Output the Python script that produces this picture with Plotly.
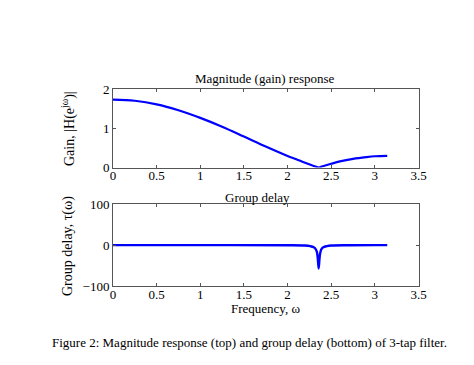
import plotly.graph_objects as go

# Magnitude response
w_mag = [0.0, 0.25, 0.5, 0.75, 1.0, 1.25, 1.5, 1.75, 2.0, 2.1, 2.2, 2.3, 2.356, 2.4, 2.5, 2.6, 2.75, 2.9, 3.0, 3.1416]
gain = [1.73, 1.70, 1.61, 1.46, 1.265, 1.04, 0.79, 0.536, 0.295, 0.21, 0.12, 0.04, 0.0, 0.03, 0.095, 0.155, 0.22, 0.265, 0.287, 0.297]

# Group delay
w_gd = [0.0, 1.0, 2.0, 2.2, 2.26, 2.3, 2.32, 2.335, 2.345, 2.356, 2.367, 2.377, 2.39, 2.41, 2.45, 2.5, 2.7, 3.1416]
delay = [0.0, 0.0, -0.2, -1.0, -2.5, -5, -9, -16, -30, -57, -30, -16, -9, -5, -2.5, -1.0, -0.2, 0.0]

xticks = [0, 0.5, 1, 1.5, 2, 2.5, 3, 3.5]
xlabels = ["0", "0.5", "1", "1.5", "2", "2.5", "3", "3.5"]

FONT = "Liberation Serif"
W, H = 474, 365
fig = go.Figure()
fig.add_trace(go.Scatter(x=w_mag, y=gain, mode="lines", line=dict(color="#0000ff", width=2.2, shape="spline"),
                         xaxis="x", yaxis="y", showlegend=False))
fig.add_trace(go.Scatter(x=w_gd, y=delay, mode="lines", line=dict(color="#0000ff", width=2.4, shape="spline"),
                         xaxis="x2", yaxis="y2", showlegend=False))

axcommon = dict(showline=True, linecolor="#555555", linewidth=1, mirror="allticks", ticks="inside",
                ticklen=3, tickcolor="#555555", showgrid=False, zeroline=False, automargin=False,
                tickfont=dict(family=FONT, size=13, color="black"))

fig.update_layout(
    template="none", autosize=False,
    width=W, height=H, margin=dict(l=0, r=0, t=0, b=0, pad=0),
    paper_bgcolor="white", plot_bgcolor="white",
    font=dict(family=FONT, size=13, color="black"),
    xaxis=dict(domain=[113 / W, 418.5 / W], range=[0, 3.5], tickvals=xticks, ticktext=xlabels, anchor="y",
               ticklabelstandoff=-4, **axcommon),
    yaxis=dict(domain=[(H - 167.5) / H, (H - 89) / H], range=[0, 2], tickvals=[0, 1, 2], anchor="x", **axcommon),
    xaxis2=dict(domain=[113 / W, 418.5 / W], range=[0, 3.5], tickvals=xticks, ticktext=xlabels, anchor="y2",
                ticklabelstandoff=-4, **axcommon),
    yaxis2=dict(domain=[(H - 286) / H, (H - 204.3) / H], range=[-100, 100], tickvals=[-100, 0, 100],
                ticktext=["\u2212100", "0", "100"], anchor="x2", **axcommon),
)

ann = [
    dict(text="Magnitude (gain) response", x=264.5 / W, y=(H - 78) / H, size=13),
    dict(text="Group delay", x=257 / W, y=(H - 197) / H, size=13),
    dict(text="Frequency, \u03c9", x=266 / W, y=(H - 308) / H, size=13),
    dict(text="Gain, |H(e<sup>j\u03c9</sup>)|", x=68 / W, y=(H - 129) / H, textangle=-90, size=14),
    dict(text="Group delay, \u03c4(\u03c9)", x=68 / W, y=(H - 246) / H, textangle=-90, size=14),
    dict(text="Figure 2: Magnitude response (top) and group delay (bottom) of 3-tap filter.",
         x=249 / W, y=(H - 342) / H, size=13),
]
for a in ann:
    size = a.pop("size")
    fig.add_annotation(xref="paper", yref="paper", showarrow=False, xanchor="center", yanchor="middle",
                       font=dict(family=FONT, size=size, color="black"), **a)

post = ("document.body.style.margin='0';document.documentElement.style.overflow='hidden';"
        "document.body.style.overflow='hidden';"
        "var gd=document.getElementById('{plot_id}');Plotly.relayout(gd,{width:%d,height:%d});" % (W, H))
fig.write_html("out.html", config={"displayModeBar": False, "responsive": False}, post_script=post)
